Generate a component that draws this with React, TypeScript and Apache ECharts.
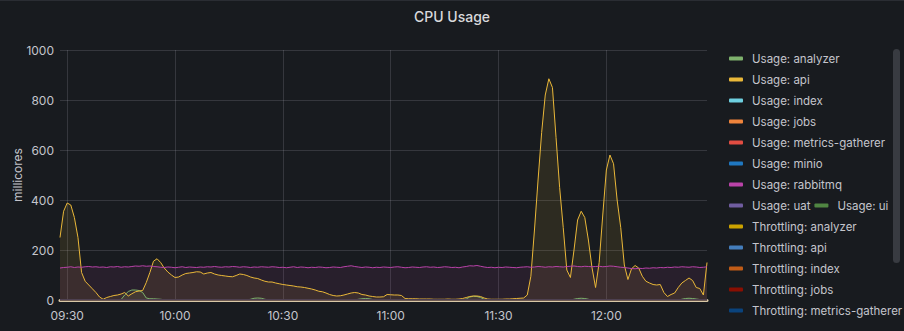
import React, { useEffect, useRef } from "react";
import * as echarts from "echarts";

// ---- time categories: one sample per minute, 09:28 .. 12:28 ----
const startHour = 9;
const startMin = 28;
const sampleCount = 181;
const times: string[] = [];
for (let i = 0; i < sampleCount; i++) {
  const m = startHour * 60 + startMin + i;
  const hh = String(Math.floor(m / 60)).padStart(2, "0");
  const mm = String(m % 60).padStart(2, "0");
  times.push(`${hh}:${mm}`);
}

const tickLabels = ["09:30", "10:00", "10:30", "11:00", "11:30", "12:00"];
const yTicks = { min: 0, max: 1000, step: 200 };

// ---- series values (millicores) ----
const api = [
  250, 355, 388, 380, 330, 250, 110, 75, 60, 45,
  30, 12, 3, 10, 14, 18, 20, 24, 30, 16,
  25, 33, 36, 38, 70, 110, 155, 165, 150, 128,
  112, 100, 90, 92, 100, 106, 108, 110, 113, 112,
  104, 108, 110, 104, 100, 98, 96, 94, 93, 98,
  104, 102, 98, 92, 88, 86, 80, 75, 72, 72,
  68, 65, 62, 60, 58, 56, 53, 52, 50, 47,
  44, 40, 35, 33, 28, 22, 18, 16, 17, 20,
  24, 28, 30, 28, 22, 20, 16, 14, 12, 12,
  13, 22, 21, 20, 20, 18, 6, 5, 5, 5,
  4, 4, 4, 4, 3, 3, 3, 3, 4, 3,
  3, 4, 6, 10, 14, 16, 16, 14, 8, 4,
  3, 3, 3, 3, 4, 4, 5, 6, 7, 8,
  20, 95, 280, 480, 670, 820, 885, 850, 650, 450,
  290, 120, 90, 200, 320, 355, 330, 240, 130, 50,
  150, 340, 520, 580, 545, 400, 290, 140, 82, 125,
  138, 128, 95, 75, 68, 62, 60, 62, 30, 14,
  22, 28, 50, 68, 78, 88, 78, 50, 46, 20,
  150,
];

const rabbitmq = [
  128, 130, 131, 133, 130, 132, 131, 133, 134, 132,
  133, 131, 132, 130, 133, 132, 134, 131, 133, 132,
  134, 136, 135, 137, 135, 136, 134, 133, 131, 130,
  132, 131, 129, 131, 133, 130, 132, 131, 130, 132,
  131, 133, 132, 134, 132, 131, 133, 132, 134, 133,
  131, 133, 132, 130, 132, 131, 133, 132, 131, 133,
  132, 130, 131, 129, 131, 133, 130, 132, 131, 129,
  131, 130, 132, 131, 129, 130, 132, 131, 130, 133,
  135, 137, 134, 132, 130, 132, 131, 129, 131, 130,
  132, 131, 130, 132, 133, 131, 129, 130, 132, 131,
  130, 132, 133, 131, 132, 130, 131, 133, 132, 130,
  131, 129, 132, 134, 137, 136, 138, 135, 132, 130,
  131, 129, 131, 130, 132, 131, 130, 129, 131, 132,
  133, 131, 132, 134, 133, 131, 133, 132, 134, 133,
  132, 134, 135, 136, 134, 133, 135, 134, 133, 134,
  135, 133, 134, 136, 135, 133, 131, 130, 128, 126,
  125, 127, 126, 128, 127, 129, 128, 130, 129, 131,
  130, 132, 131, 133, 132, 131, 133, 132, 130, 131,
  133,
];

const analyzer = [
  0, 0, 0, 0, 0, 0, 0, 0, 0, 0,
  0, 0, 0, 0, 0, 0, 0, 2, 20, 34,
  40, 40, 38, 30, 8, 5, 5, 4, 3, 1,
  0, 0, 0, 0, 0, 0, 0, 0, 0, 0,
  0, 0, 0, 0, 0, 0, 0, 0, 0, 0,
  0, 0, 0, 3, 7, 8, 7, 3, 0, 0,
  0, 0, 0, 0, 0, 0, 0, 0, 0, 0,
  0, 0, 0, 0, 0, 0, 0, 0, 0, 0,
  0, 0, 0, 3, 5, 6, 5, 2, 0, 0,
  0, 0, 0, 0, 0, 0, 0, 0, 0, 0,
  0, 0, 0, 0, 0, 0, 0, 0, 0, 0,
  0, 0, 0, 4, 12, 15, 14, 10, 3, 0,
  0, 0, 0, 0, 0, 0, 0, 0, 0, 0,
  0, 0, 0, 0, 0, 0, 0, 0, 0, 0,
  0, 0, 0, 3, 6, 7, 6, 3, 0, 0,
  0, 0, 0, 0, 0, 0, 0, 0, 0, 0,
  0, 0, 0, 0, 0, 0, 0, 0, 0, 0,
  0, 0, 0, 3, 6, 7, 6, 4, 2, 0,
  0,
];

const uat: [string, number][] = [["09:28", 2], ["12:28", 2]];
const flatZero: [string, number][] = [["09:28", 0], ["12:28", 0]];

const seriesNames = [
  "Usage: analyzer",
  "Usage: api",
  "Usage: index",
  "Usage: jobs",
  "Usage: metrics-gatherer",
  "Usage: minio",
  "Usage: rabbitmq",
  "Usage: uat",
  "Usage: ui",
  "Throttling: analyzer",
  "Throttling: api",
  "Throttling: index",
  "Throttling: jobs",
  "Throttling: metrics-gatherer",
];
const seriesColors = [
  "#7EB26D", "#EAB839", "#6ED0E0", "#EF843C", "#E24D42", "#1F78C1", "#BA43A9",
  "#705DA0", "#508642", "#CCA300", "#447EBC", "#C15C17", "#890F02", "#0A437C",
];
const seriesData: any[] = [
  analyzer, api, flatZero, flatZero, flatZero, flatZero, rabbitmq,
  uat, flatZero, flatZero, flatZero, flatZero, flatZero, flatZero,
];
const filled = [true, true, false, false, false, false, true, true, false, false, false, false, false, false];

const BG = "#181b1f";
const TEXT = "#c4c5cc";
const GRID = "rgba(204,204,220,0.16)";
const FONT = "Inter, Roboto, 'Noto Sans', sans-serif";

export default function App() {
  const ref = useRef<HTMLDivElement>(null);

  useEffect(() => {
    document.body.style.margin = "0";
    document.body.style.background = BG;
    if (!ref.current) return;
    const chart = echarts.init(ref.current, undefined, { renderer: "svg" });

    const isTick = (_i: number, v: string) => tickLabels.indexOf(v) >= 0;

    const option: any = {
      animation: false,
      backgroundColor: BG,
      textStyle: { fontFamily: FONT },
      title: {
        text: "CPU Usage",
        left: "center",
        top: 9,
        padding: 0,
        textStyle: { color: "#d8d9dc", fontSize: 14, fontWeight: 500, fontFamily: FONT },
      },
      grid: { left: 60, right: 197, top: 50, bottom: 31, containLabel: false, outerBoundsMode: "none" },
      graphic: [
        { type: "rect", left: 0, top: 0, z: -1, shape: { width: 904, height: 1 }, style: { fill: "#2a2d33" } },
        { type: "rect", left: 893, top: 49, z: -1, shape: { width: 7, height: 214, r: 3.5 }, style: { fill: "#383b41" } },
      ],
      legend: {
        type: "plain",
        orient: "horizontal",
        left: 729,
        top: 48,
        width: 170,
        padding: 0,
        itemWidth: 14,
        itemHeight: 4,
        itemGap: 0,
        icon: "roundRect",
        align: "left",
        selectedMode: false,
        textStyle: {
          color: TEXT,
          fontSize: 11.5,
          fontFamily: FONT,
          lineHeight: 14,
          padding: [0, 4, 7, 4],
        },
        data: seriesNames,
      },
      xAxis: {
        type: "category",
        data: times,
        boundaryGap: false,
        offset: 1.5,
        axisLine: { show: true, lineStyle: { color: "#d9c8a6", width: 3 } },
        axisTick: { show: false },
        axisLabel: { color: TEXT, fontSize: 12, fontFamily: FONT, margin: 8, interval: isTick },
        splitLine: { show: true, interval: isTick, lineStyle: { color: GRID, width: 1 } },
      },
      yAxis: {
        type: "value",
        min: yTicks.min,
        max: yTicks.max,
        interval: yTicks.step,
        name: "millicores",
        nameLocation: "middle",
        nameGap: 37,
        nameMoveOverlap: false,
        nameTextStyle: { color: TEXT, fontSize: 12, fontFamily: FONT },
        axisLine: { show: false },
        axisTick: { show: false },
        axisLabel: {
          color: TEXT,
          fontSize: 12,
          fontFamily: FONT,
          margin: 6,
          formatter: (v: number) => String(v),
        },
        splitLine: { show: true, lineStyle: { color: GRID, width: 1 } },
      },
      series: seriesNames.map((name, i) => ({
        name,
        type: "line",
        data: seriesData[i],
        color: seriesColors[i],
        showSymbol: false,
        symbol: "none",
        lineStyle: { width: 1, color: seriesColors[i] },
        areaStyle: filled[i] ? { color: seriesColors[i], opacity: 0.1 } : undefined,
        emphasis: { disabled: true },
        silent: true,
      })),
    };

    chart.setOption(option);
    return () => chart.dispose();
  }, []);

  return (
    <div
      ref={ref}
      style={{ position: "fixed", left: 0, top: 0, width: 904, height: 331 }}
    />
  );
}
